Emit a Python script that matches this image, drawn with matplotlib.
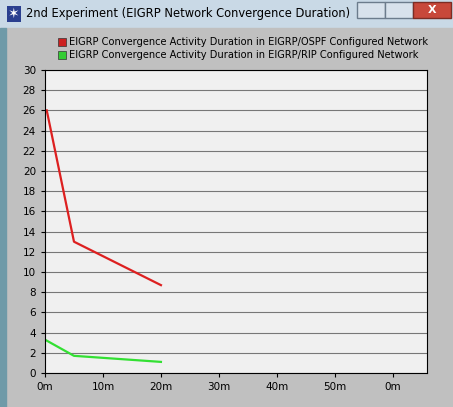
import matplotlib
matplotlib.use("Agg")
import matplotlib.pyplot as plt
from matplotlib.patches import Rectangle

ospf_t = [0.3, 5, 20]
ospf_v = [26.0, 13.0, 8.7]
rip_t = [0, 5, 10, 20]
rip_v = [3.3, 1.7, 1.5, 1.1]
xticks = [0, 10, 20, 30, 40, 50, 60]
xlabels = ["0m", "10m", "20m", "30m", "40m", "50m", "0m"]
yticks = list(range(0, 31, 2))
title = "2nd Experiment (EIGRP Network Convergence Duration)"
labels = ["EIGRP Convergence Activity Duration in EIGRP/OSPF Configured Network",
          "EIGRP Convergence Activity Duration in EIGRP/RIP Configured Network"]

W, H = 453, 407
fig = plt.figure(figsize=(W/100, H/100), dpi=100)
fig.patch.set_facecolor("#9fb8c8")
def px(x, y, w, h, **kw):
    fig.add_artist(Rectangle((x/W, 1-(y+h)/H), w/W, h/H, transform=fig.transFigure, **kw))
px(0, 0, W, 28, color="#c9d9e6", zorder=0)
px(6, 28, W-6, H-28, color="#c0c0c0", zorder=0)
px(0, 28, 6, H-28, color="#6f9aa8", zorder=0)
fig.text(26/W, 1-14/H, title, fontsize=8.3, va="center", ha="left", family="DejaVu Sans")
fig.text(8/W, 1-14/H, "✶", fontsize=10, va="center", color="white",
         bbox=dict(boxstyle="square,pad=0.1", fc="#2a3f8f", ec="none"))
px(357, 2, 28, 16, color="#d8e2ec", ec="#6c7c8c", zorder=1)
px(385, 2, 28, 16, color="#d8e2ec", ec="#6c7c8c", zorder=1)
px(413, 2, 38, 16, color="#c8483a", ec="#7c2c24", zorder=1)
fig.text(432/W, 1-10/H, "X", fontsize=8, color="white", ha="center", va="center", weight="bold")

ax = fig.add_axes([45/W, 1-373/H, 382/W, 303/H])
ax.set_facecolor("#f0f0f0")
ax.plot(ospf_t, ospf_v, color="#dd2020", lw=1.6)
ax.plot(rip_t, rip_v, color="#33e033", lw=1.6)
ax.set_xlim(0, 65.9)
ax.set_ylim(0, 30)
ax.set_yticks(yticks)
ax.set_xticks(xticks)
ax.set_xticklabels(xlabels)
ax.tick_params(labelsize=7.5, length=3, direction="out")
ax.grid(axis="y", color="#777777", lw=0.8)
for s in ax.spines.values():
    s.set_color("black")

for i, (lab, col) in enumerate(zip(labels, ["#cc2020", "#33cc33"])):
    y = 42 + i*13
    px(58, y-4, 8, 8, color=col, ec="#333333", lw=0.5, zorder=2)
    fig.text(69/W, 1-y/H, lab, fontsize=7.1, va="center", ha="left")

fig.savefig("out.png", dpi=100)
